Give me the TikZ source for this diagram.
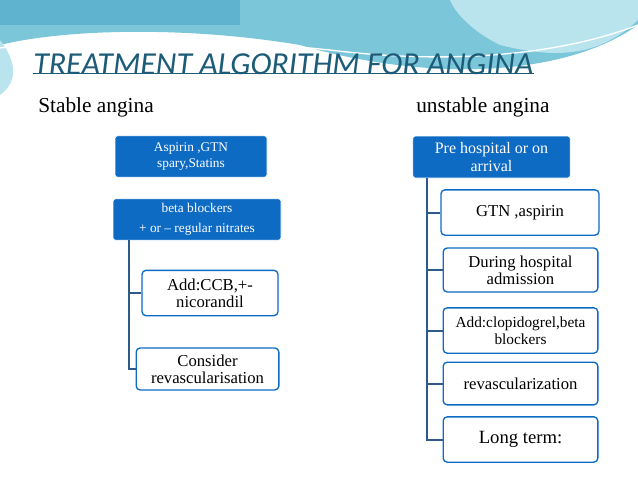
\documentclass[tikz,border=0pt]{standalone}
\usepackage{fontspec}
\setmainfont{Liberation Serif}
\newfontfamily\titlefont{Carlito}
\definecolor{boxblue}{HTML}{0E6BC4}
\definecolor{linkblue}{HTML}{2E5A8A}
\definecolor{titleteal}{HTML}{1D5C78}
\definecolor{waveA}{HTML}{7CC6DA}
\definecolor{waveB}{HTML}{B9E4EE}
\definecolor{waveC}{HTML}{5FB3CF}
\begin{document}
\begin{tikzpicture}[x=0.75pt,y=-0.75pt,
 bluebox/.style={draw=white,fill=boxblue,rounded corners=2pt,text=white,align=center,inner sep=1pt,font=\fontsize{10}{12}\selectfont},
 wbox/.style={draw=boxblue,line width=1pt,fill=white,rounded corners=3pt,align=center,inner sep=1pt,font=\fontsize{12.5}{13}\selectfont},
 conn/.style={draw=linkblue,line width=1.5pt}]
\useasboundingbox (0,0) rectangle (638,479);
\fill[white] (0,0) rectangle (638,479);
% top wave
\fill[waveA] (0,0) -- (638,0) -- (638,25) .. controls (560,80) and (420,80) .. (300,45) .. controls (180,25) and (60,30) .. (0,45) -- cycle;
\fill[waveC] (0,0) rectangle (240,25);
\fill[waveB] (450,0) -- (638,0) -- (638,20) .. controls (600,55) and (560,60) .. (500,45) .. controls (470,30) and (455,12) .. (450,0);
\fill[waveB] (0,40) .. controls (15,60) and (20,80) .. (0,95) -- cycle;
\draw[white,line width=1pt] (0,48) .. controls (120,30) and (230,40) .. (330,50) .. controls (450,65) and (560,55) .. (638,25);
% title
\node[anchor=base west,inner sep=0,text=titleteal,font=\titlefont\itshape\fontsize{24}{28}\selectfont] (title) at (33,74) {TREATMENT ALGORITHM FOR ANGINA};
\draw[titleteal,line width=1.2pt] (title.south west) ++(0,-1) coordinate (u1) -- (title.south east |- u1);
\node[anchor=base west,inner sep=0,font=\fontsize{16}{18}\selectfont] (st) at (38,112) {Stable angina};
\node[anchor=base west,inner sep=0,font=\fontsize{16}{18}\selectfont] (un) at (416,112) {unstable angina};
% left
\node[bluebox,minimum width=114pt,minimum height=31pt] (l1) at (191,156.5) {Aspirin ,GTN\\spary,Statins};
\node[bluebox,minimum width=126pt,minimum height=31pt] (l2) at (197,219.5) {beta blockers\\[3pt]+ or -- regular nitrates};
\node[wbox,minimum width=102pt,minimum height=34pt] (l3) at (210,293) {Add:CCB,+-\\nicorandil};
\node[wbox,minimum width=107pt,minimum height=31.5pt] (l4) at (207.5,369) {Consider\\revascularisation};
\coordinate (lt) at (129,240);
\draw[conn] (lt) |- (l4.west);
\draw[conn] (lt |- l3.west) -- (l3.west);
% right
\node[bluebox,minimum width=118pt,minimum height=31.5pt,font=\fontsize{12}{13}\selectfont] (r1) at (491.5,157) {Pre hospital or on\\arrival};
\node[wbox,minimum width=118.5pt,minimum height=34pt] (r2) at (520,212.5) {GTN ,aspirin};
\node[wbox,minimum width=116pt,minimum height=33pt] (r3) at (520.5,270) {During hospital\\admission};
\node[wbox,minimum width=116pt,minimum height=34pt,font=\fontsize{11.5}{12.5}\selectfont] (r4) at (520.5,330.5) {Add:clopidogrel,beta\\blockers};
\node[wbox,minimum width=116pt,minimum height=32pt] (r5) at (520.5,383.5) {revascularization};
\node[wbox,minimum width=116pt,minimum height=34pt,font=\fontsize{14}{15}\selectfont] (r6) at (520.5,439.5) {Long term:};
\coordinate (rt) at (427,178);
\draw[conn] (rt) |- (r6.west);
\foreach \n in {r2,r3,r4,r5} \draw[conn] (rt |- \n.west) -- (\n.west);
\end{tikzpicture}
\end{document}
